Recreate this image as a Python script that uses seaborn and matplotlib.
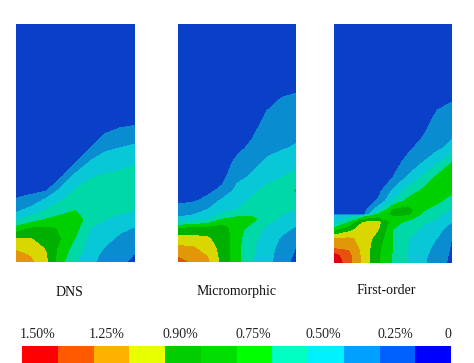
import numpy as np
import matplotlib
matplotlib.use("Agg")
import matplotlib.pyplot as plt
from matplotlib.colors import ListedColormap
import seaborn as sns

# strain level, one list per column from left to right,
# each going from the bottom of the specimen to the top. 1 unit = one contour band
across = [0, .125, .25, .375, .5, .625, .75, .875, 1]

rows_a = [0, .03, .06, .1, .14, .18, .22, .26, .3, .36, .42, .48, .54, .6, .7, .78, 1]
dns = [
    [7.6, 7.3, 6.8, 6.0, 4.4, 2.7, 1.7, 1.05, .8, .6, .5, .5, .5, .5, .5, .5, .5],
    [7.2, 6.9, 6.5, 6.0, 5.1, 3.4, 2.3, 1.3, .8, .6, .5, .5, .5, .5, .5, .5, .5],
    [6.2, 6.1, 5.9, 5.5, 5.2, 4.0, 3.0, 2.2, .9, .6, .5, .5, .5, .5, .5, .5, .5],
    [4.3, 4.5, 4.7, 5.0, 4.9, 4.3, 3.6, 2.9, 2.3, .8, .55, .5, .5, .5, .5, .5, .5],
    [3.1, 3.3, 3.6, 3.95, 4.3, 4.4, 3.95, 3.5, 3.1, 2.3, .9, .6, .5, .5, .5, .5, .5],
    [2.3, 2.4, 2.5, 2.7, 2.95, 3.6, 3.6, 3.6, 3.4, 2.9, 2.1, 1.0, .6, .5, .5, .5, .5],
    [1.5, 1.7, 1.95, 2.3, 2.6, 3.0, 3.2, 3.3, 3.3, 3.1, 2.5, 1.8, 1.0, .6, .5, .5, .5],
    [1.25, 1.35, 1.5, 1.8, 2.2, 2.75, 3.2, 3.4, 3.4, 3.2, 2.7, 2.0, 1.2, .7, .5, .5, .5],
    [.7, .95, 1.2, 1.55, 1.9, 2.4, 3.0, 3.4, 3.5, 3.4, 2.9, 2.2, 1.4, .7, .5, .5, .5],
]
micro = [
    [8.4, 7.8, 7.2, 6.3, 5.0, 2.2, 1.3, .8, .65, .55, .5, .5, .5, .5, .5, .5, .5],
    [7.8, 7.5, 7.1, 6.3, 5.3, 2.4, 1.5, .85, .7, .55, .5, .5, .5, .5, .5, .5, .5],
    [7.2, 6.9, 6.5, 6.1, 5.4, 2.8, 2.0, 1.2, .8, .6, .5, .5, .5, .5, .5, .5, .5],
    [5.6, 5.6, 5.6, 5.6, 5.5, 4.0, 2.6, 2.15, 1.2, .7, .55, .5, .5, .5, .5, .5, .5],
    [4.3, 4.3, 4.3, 4.3, 4.4, 4.3, 3.0, 2.6, 2.3, 1.7, 1.2, .75, .55, .5, .5, .5, .5],
    [3.1, 3.1, 3.1, 3.3, 3.6, 4.3, 3.3, 3.1, 2.8, 2.1, 1.7, 1.2, .85, .6, .5, .5, .5],
    [2.4, 2.45, 2.5, 2.6, 2.8, 3.4, 3.6, 3.5, 3.2, 2.7, 2.1, 1.8, 1.5, 1.15, .7, .55, .5],
    [1.4, 1.5, 1.65, 1.9, 2.3, 2.8, 3.2, 3.4, 3.4, 2.95, 2.4, 1.9, 1.7, 1.45, .95, .6, .5],
    [.7, .85, .98, 1.45, 1.85, 2.4, 2.95, 3.5, 4.05, 3.3, 2.6, 2.1, 1.75, 1.5, 1.05, .6, .5],
]

# first-order has the sharp step just under v=.2 so it gets two extra rows
rows_b = [0, .03, .06, .1, .14, .17, .195, .205, .22, .26, .3, .36, .42, .48, .54, .6, .7, .78, 1]
first = [
    [9.8, 9.4, 8.0, 7.2, 4.4, 2.6, 2.3, .6, .6, .5, .5, .5, .5, .5, .5, .5, .5, .5, .5],
    [8.4, 8.3, 7.9, 7.2, 5.6, 4.0, 2.7, .6, .6, .5, .5, .5, .5, .5, .5, .5, .5, .5, .5],
    [6.6, 6.6, 6.6, 6.6, 6.6, 6.1, 3.7, .6, .6, .5, .5, .5, .5, .5, .5, .5, .5, .5, .5],
    [5.1, 5.1, 5.2, 5.5, 6.0, 6.3, 4.6, 4.0, 2.8, 1.1, .7, .55, .5, .5, .5, .5, .5, .5, .5],
    [3.9, 3.9, 3.95, 3.97, 3.97, 4.4, 4.9, 5.2, 5.2, 3.0, 2.2, 1.0, .6, .5, .5, .5, .5, .5, .5],
    [2.98, 3.0, 3.0, 3.05, 3.4, 3.7, 4.6, 5.2, 5.4, 4.3, 3.4, 2.1, 1.3, .8, .6, .5, .5, .5, .5],
    [2.15, 2.2, 2.3, 2.5, 2.8, 3.2, 3.7, 3.8, 4.1, 4.6, 4.2, 3.1, 2.0, 1.35, .9, .65, .5, .5, .5],
    [1.5, 1.6, 1.75, 1.95, 2.35, 2.65, 3.1, 3.2, 3.5, 4.2, 4.8, 4.2, 2.8, 1.8, 1.6, 1.2, .7, .55, .5],
    [.7, .78, .85, .97, 1.45, 1.95, 2.4, 2.55, 2.8, 3.5, 4.2, 4.6, 4.0, 2.35, 1.75, 1.4, .85, .6, .5],
]

band_colors = ["#0a40c8", "#0a8cd0", "#08c8d8", "#00d8a8", "#00d000",
               "#00b000", "#d8d800", "#e09808", "#e85010", "#e00010"]
band_levels = list(range(11))

legend_colors = ["#ff0000", "#ff5a00", "#ffb000", "#e8ff00", "#00cc00", "#00dd00",
                 "#00ff00", "#00ffc0", "#00f0ff", "#00a0ff", "#0060ff", "#0000ff"]
legend_labels = ["1.50%", "1.25%", "0.90%", "0.75%", "0.50%", "0.25%", "0"]
legend_x = [38, 107, 180, 253, 323, 395, 448]

names = ["DNS", "Micromorphic", "First-order"]
name_x = [69, 237, 386]
name_y = [292, 292, 291]

sns.set_theme(style="white")
plt.rcParams["font.family"] = ["Liberation Serif", "DejaVu Serif"]

W, H = 474, 363
fig = plt.figure(figsize=(W / 100, H / 100), dpi=100)


def box(x0, y0, x1, y1):
    # pixel box of the reference -> figure fractions
    return [x0 / W, 1 - y1 / H, (x1 - x0) / W, (y1 - y0) / H]


panels = [
    (box(16, 24, 135, 262), rows_a, dns),
    (box(178, 24, 296, 262), rows_a, micro),
    (box(334, 24, 452, 263), rows_b, first),
]
for pos, rows, field in panels:
    ax = fig.add_axes(pos)
    z = np.array(field).T
    ax.contourf(across, rows, z, levels=band_levels, colors=band_colors)
    ax.set_xlim(0, 1)
    ax.set_ylim(0, 1)
    ax.axis("off")

for name, x, y in zip(names, name_x, name_y):
    fig.text(x / W, 1 - y / H, name, ha="center", va="center", fontsize=10, color="#111111")

for lab, x in zip(legend_labels, legend_x):
    fig.text(x / W, 1 - 334 / H, lab, ha="center", va="center", fontsize=10, color="#222222")

# colour strip along the bottom
cax = fig.add_axes(box(22, 346, 451, 363))
sns.heatmap(np.arange(12).reshape(1, 12), ax=cax, cmap=ListedColormap(legend_colors),
            cbar=False, xticklabels=False, yticklabels=False)

fig.savefig("out.png", dpi=100)
